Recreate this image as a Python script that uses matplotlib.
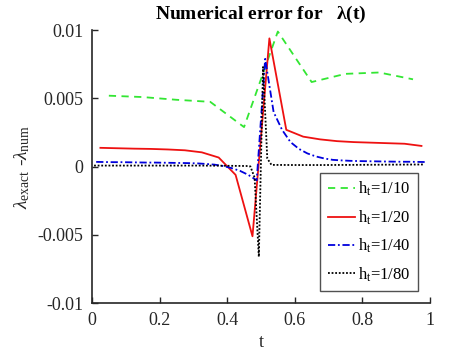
import numpy as np
import matplotlib
matplotlib.use('Agg')
import matplotlib.pyplot as plt
from matplotlib.ticker import FuncFormatter

plt.rcParams['font.family'] = 'Liberation Serif'
plt.rcParams['mathtext.fontset'] = 'custom'
plt.rcParams['mathtext.rm'] = 'Liberation Serif'
plt.rcParams['mathtext.it'] = 'Liberation Serif:italic'
plt.rcParams['mathtext.bf'] = 'Liberation Serif:bold'

# h_t = 1/10 (cell midpoints)
t10 = [0.05, 0.15, 0.25, 0.35, 0.45, 0.55, 0.65, 0.75, 0.85, 0.95]
e10 = [0.0052, 0.0051, 0.0049, 0.00475, 0.0029, 0.0099, 0.0062, 0.0068, 0.0069, 0.0064]

# h_t = 1/20
t20 = [0.025, 0.075, 0.125, 0.175, 0.225, 0.275, 0.325, 0.375, 0.425, 0.475,
       0.525, 0.575, 0.625, 0.675, 0.725, 0.775, 0.825, 0.875, 0.925, 0.975]
e20 = [0.00138, 0.00135, 0.00132, 0.0013, 0.00126, 0.0012, 0.00105, 0.00067, -0.0006, -0.0051,
       0.0094, 0.0027, 0.0022, 0.002, 0.00187, 0.0018, 0.00176, 0.00172, 0.00168, 0.00152]

# h_t = 1/40
t40 = [0.0125, 0.0375, 0.0625, 0.0875, 0.1125, 0.1375, 0.1625, 0.1875, 0.2125, 0.2375,
       0.2625, 0.2875, 0.3125, 0.3375, 0.3625, 0.3875, 0.4125, 0.4375, 0.4625, 0.4875,
       0.5125, 0.5375, 0.5625, 0.5875, 0.6125, 0.6375, 0.6625, 0.6875, 0.7125, 0.7375,
       0.7625, 0.7875, 0.8125, 0.8375, 0.8625, 0.8875, 0.9125, 0.9375, 0.9625, 0.9875]
e40 = [0.00035, 0.00034, 0.00033, 0.00033, 0.00032, 0.00031, 0.0003, 0.0003, 0.00029, 0.00028,
       0.00027, 0.00026, 0.00024, 0.0002, 0.00015, 0.00005, -0.0001, -0.0003, -0.0006, -0.001,
       0.0079, 0.004, 0.0027, 0.0018, 0.0013, 0.00097, 0.00075, 0.0006, 0.0005, 0.00046,
       0.00043, 0.00041, 0.0004, 0.00039, 0.00038, 0.00037, 0.00036, 0.00036, 0.00035, 0.00034]

# h_t = 1/80
t80 = [0.00625, 0.08125, 0.15625, 0.23125, 0.30625, 0.38125, 0.45625, 0.46875, 0.48125, 0.49375,
       0.50625, 0.51875, 0.53125, 0.60625, 0.68125, 0.75625, 0.83125, 0.90625, 0.98125]
e80 = [0.00008, 0.00008, 0.00008, 0.00008, 0.00008, 0.00007, 0.00005, 0.00002, -0.0008, -0.0066,
       0.0073, 0.0006, 0.00013, 0.00012, 0.00012, 0.00013, 0.00014, 0.00015, 0.00016]

labels = ['h$_\\mathrm{t}$=1/10', 'h$_\\mathrm{t}$=1/20', 'h$_\\mathrm{t}$=1/40', 'h$_\\mathrm{t}$=1/80']

fig = plt.figure(figsize=(4.74, 3.55), dpi=100)
ax = fig.add_axes([0.194, 0.146, 0.713, 0.769])

ax.plot(t10, e10, color='#33e633', linestyle=(0, (4, 3)), lw=1.3, label=labels[0])
ax.plot(t20, e20, color='#ee1111', linestyle='-', lw=1.3, label=labels[1])
ax.plot(t40, e40, color='#0000dd', linestyle=(0, (4, 1.5, 1, 1.5)), lw=1.3, label=labels[2])
ax.plot(t80, e80, color='black', linestyle=(0, (1, 1)), lw=1.3, label=labels[3])

ax.set_xlim(0, 1)
ax.set_ylim(-0.01, 0.01)
ax.set_xticks([0, 0.2, 0.4, 0.6, 0.8, 1])
ax.set_yticks([-0.01, -0.005, 0, 0.005, 0.01])
ax.xaxis.set_major_formatter(FuncFormatter(lambda v, p: ('%g' % v)))
ax.yaxis.set_major_formatter(FuncFormatter(lambda v, p: ('%g' % v)))
ax.tick_params(direction='in', length=4, width=1, labelsize=13, colors='#262626', pad=6)
for s in ['top', 'right']:
    ax.spines[s].set_visible(False)
for s in ['left', 'bottom']:
    ax.spines[s].set_color('#262626')
    ax.spines[s].set_linewidth(1.2)

ax.set_xlabel('t', fontsize=13, color='#262626')
ax.set_ylabel(r'$\lambda_{\mathrm{exact}}$ -$\lambda_{\mathrm{num}}$', fontsize=14, color='#262626')
ax.set_title(r'Numerical error for   $\mathbf{\lambda(t)}$', fontsize=14, fontweight='bold', pad=8)

leg = ax.legend(loc='lower right', fontsize=12, frameon=True, fancybox=False,
                edgecolor='#262626', handlelength=1.6, handletextpad=0.2,
                borderpad=0.45, labelspacing=0.6, borderaxespad=0,
                bbox_to_anchor=(0.964, 0.044))
leg.get_frame().set_linewidth(1.0)

fig.savefig('out.png', dpi=100)
